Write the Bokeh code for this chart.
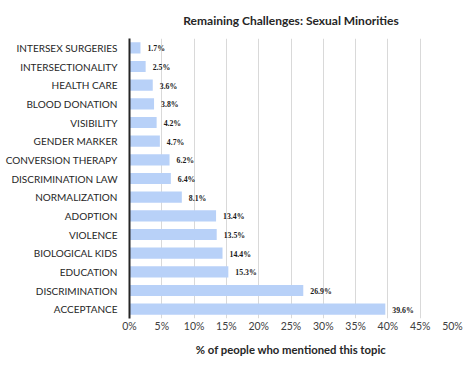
from bokeh.plotting import figure
from bokeh.models import FactorRange, ColumnDataSource, Range1d, FixedTicker, LabelSet
from bokeh.embed import file_html
from bokeh.resources import INLINE

categories = ["INTERSEX SURGERIES", "INTERSECTIONALITY", "HEALTH CARE", "BLOOD DONATION",
              "VISIBILITY", "GENDER MARKER", "CONVERSION THERAPY", "DISCRIMINATION LAW",
              "NORMALIZATION", "ADOPTION", "VIOLENCE", "BIOLOGICAL KIDS", "EDUCATION",
              "DISCRIMINATION", "ACCEPTANCE"]
values = [1.7, 2.5, 3.6, 3.8, 4.2, 4.7, 6.2, 6.4, 8.1, 13.4, 13.5, 14.4, 15.3, 26.9, 39.6]
value_labels = ["1.7%", "2.5%", "3.6%", "3.8%", "4.2%", "4.7%", "6.2%", "6.4%", "8.1%",
                "13.4%", "13.5%", "14.4%", "15.3%", "26.9%", "39.6%"]
x_ticks = [0, 5, 10, 15, 20, 25, 30, 35, 40, 45, 50]

FONT = "Lato"

src = ColumnDataSource(dict(cat=categories, val=values, lab=value_labels))

p = figure(width=466, height=358, output_backend="svg", toolbar_location=None,
           y_range=FactorRange(*list(reversed(categories)), range_padding=0),
           x_range=Range1d(0, 50),
           title="Remaining Challenges: Sexual Minorities")
p.min_border_left = 129
p.min_border_right = 14
p.min_border_top = 37
p.min_border_bottom = 38
p.outline_line_color = None
p.background_fill_color = "white"

p.hbar(y="cat", right="val", left=0, height=0.6, source=src,
       fill_color="#b8d1f8", line_color=None)

labels = LabelSet(x="val", y="cat", text="lab", source=src, x_offset=7, y_offset=-1,
                  text_font=FONT, text_font_size="7.8px", text_font_style="bold",
                  text_color="#1a1a1a", text_baseline="middle", text_align="left")
p.add_layout(labels)

p.title.text_font = FONT
p.title.text_font_size = "12px"
p.title.text_font_style = "bold"
p.title.text_color = "#262626"
p.title.align = "center"
p.title.offset = -54
p.title.standoff = 21

p.ygrid.grid_line_color = None
p.xgrid.grid_line_color = "#d9d9d9"
p.xgrid.ticker = FixedTicker(ticks=x_ticks)

p.xaxis.ticker = FixedTicker(ticks=x_ticks)
p.xaxis.major_label_overrides = {t: f"{t}%" for t in x_ticks}
p.xaxis.axis_line_color = None
p.xaxis.major_tick_line_color = None
p.xaxis.minor_tick_line_color = None
p.xaxis.major_tick_in = 0
p.xaxis.major_tick_out = 0
p.xaxis.major_label_text_font = FONT
p.xaxis.major_label_text_font_size = "10.5px"
p.xaxis.major_label_text_color = "#404040"
p.xaxis.major_label_standoff = 1
p.xaxis.axis_label = "% of people who mentioned this topic"
p.xaxis.axis_label_text_font = FONT
p.xaxis.axis_label_text_font_size = "11.3px"
p.xaxis.axis_label_text_font_style = "bold"
p.xaxis.axis_label_text_color = "#262626"
p.xaxis.axis_label_standoff = 8

p.yaxis.axis_line_color = "#262626"
p.yaxis.axis_line_width = 2
p.yaxis.major_tick_line_color = None
p.yaxis.minor_tick_line_color = None
p.yaxis.major_tick_in = 0
p.yaxis.major_tick_out = 0
p.yaxis.major_label_standoff = 12
p.yaxis.major_label_text_font = FONT
p.yaxis.major_label_text_font_size = "10px"
p.yaxis.major_label_text_color = "#262626"

open("out.html", "w").write(file_html(p, INLINE))
